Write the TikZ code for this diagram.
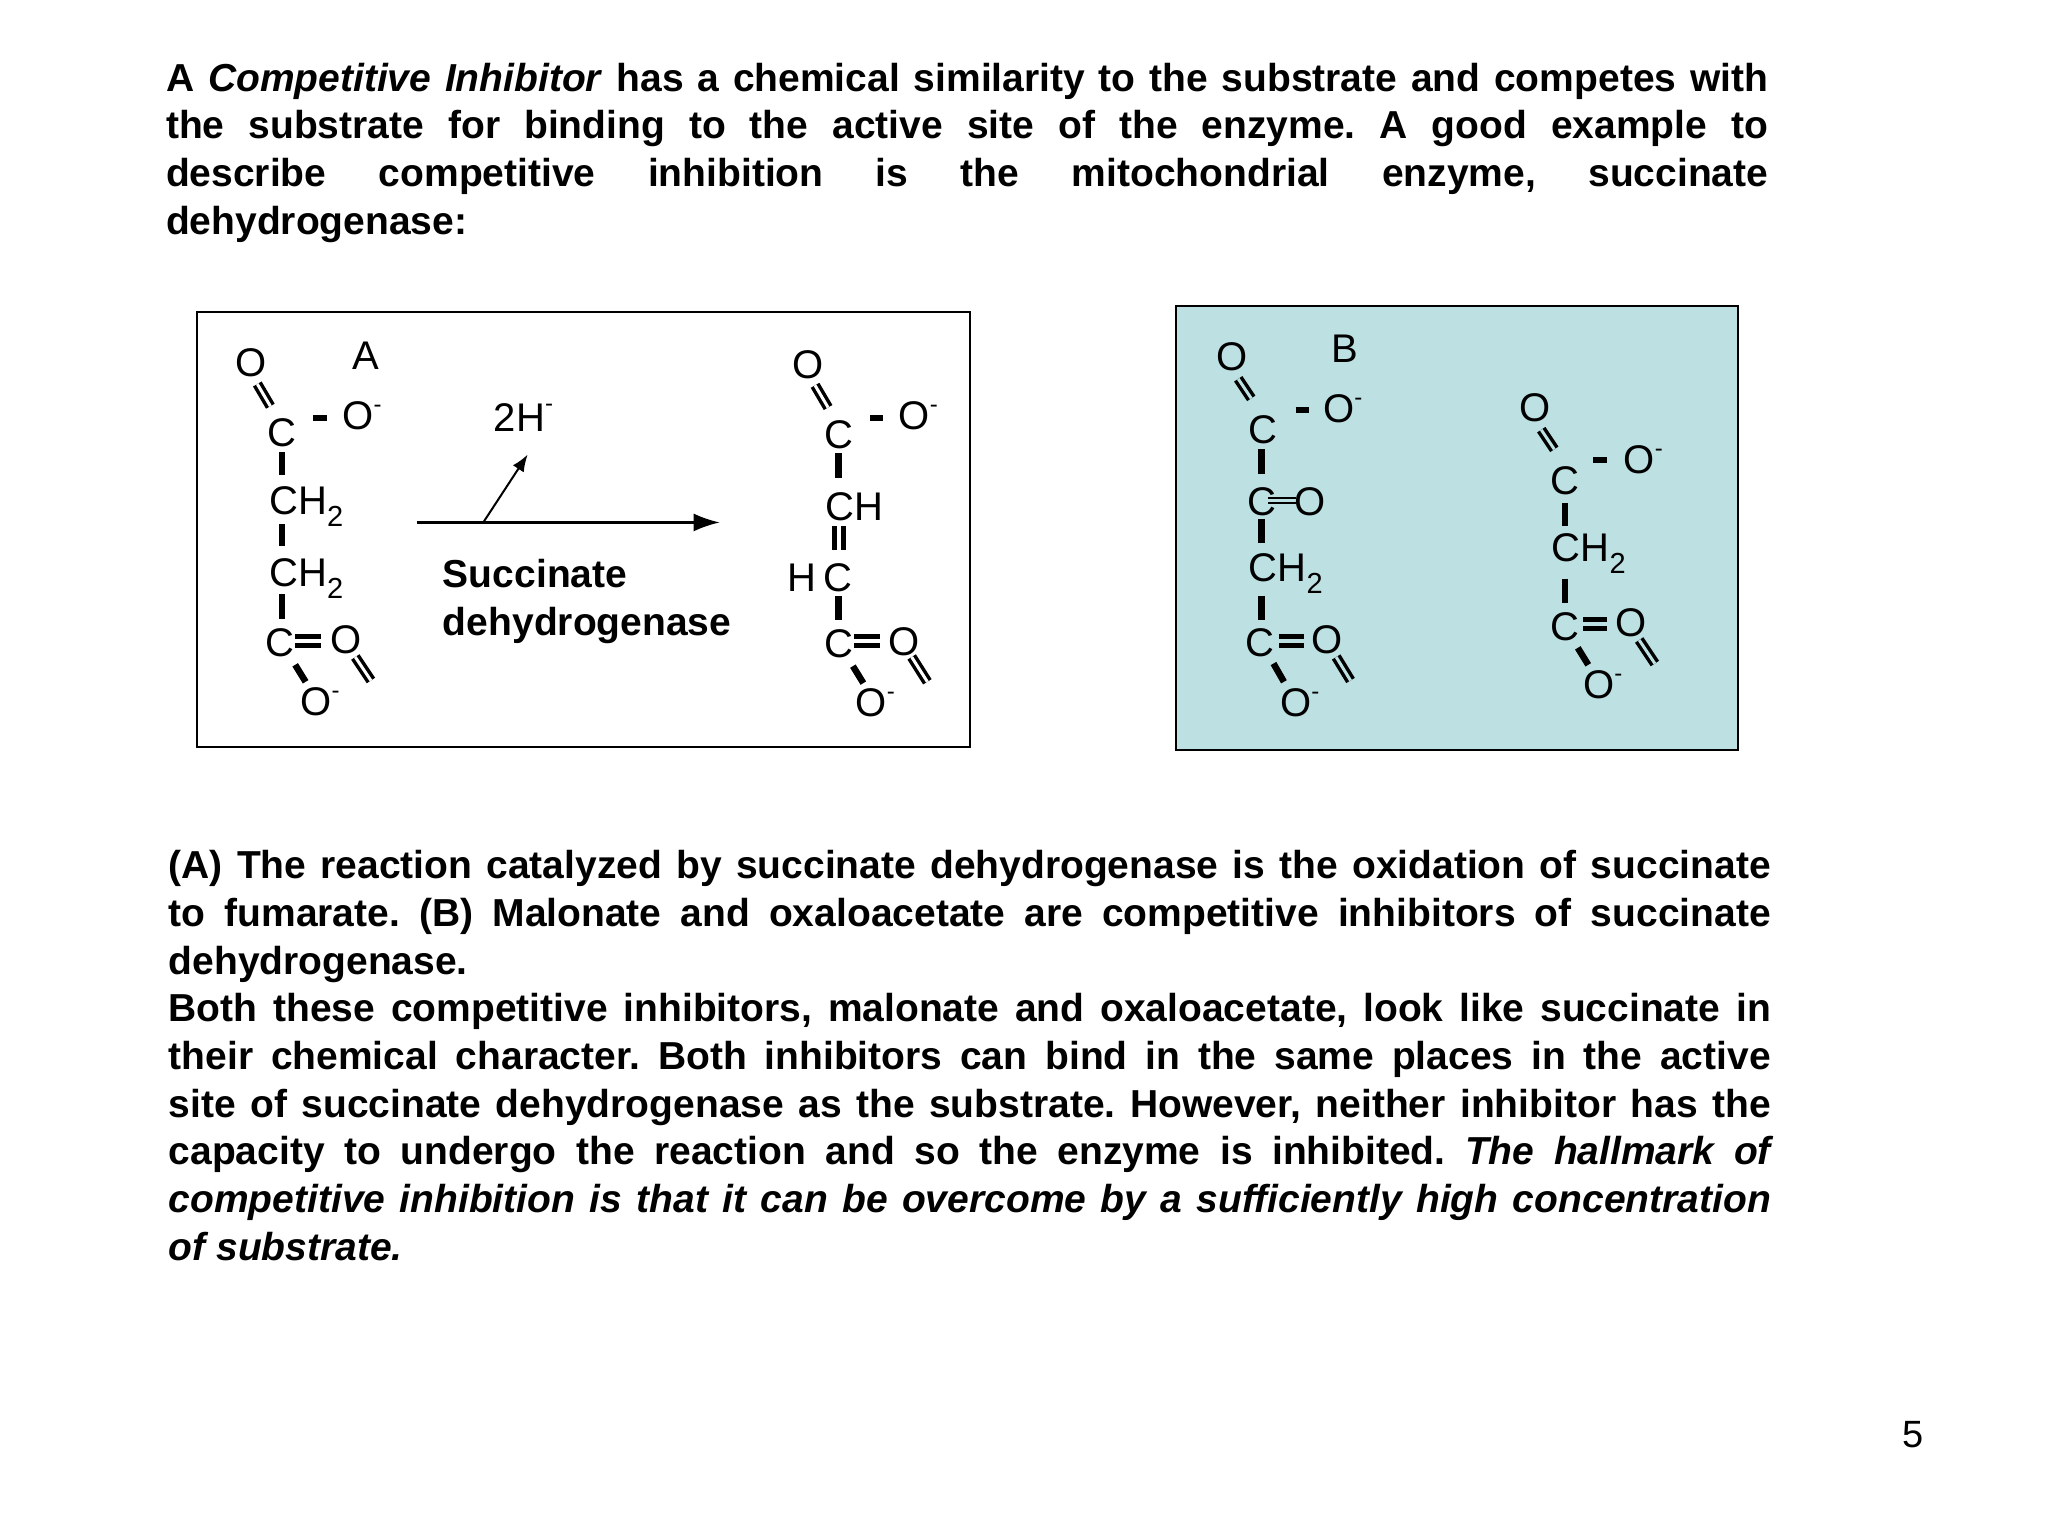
\documentclass[tikz,border=0pt]{standalone}
\usepackage{fontspec}
\usetikzlibrary{arrows.meta}
\setmainfont{Liberation Sans}
\definecolor{bbg}{HTML}{BDE0E3}
\newcommand\Om{O\raisebox{.42em}{\fontsize{24}{24}\selectfont -}}
\newcommand\CHt{CH\raisebox{-.3em}{\fontsize{29}{29}\selectfont 2}}
\begin{document}
\begin{tikzpicture}[x=1.306pt,y=-1.306pt,
  atom/.style={font=\fontsize{40}{40}\selectfont, inner sep=0pt},
  bnd/.style={line width=6.5pt},
  dbl/.style={line width=3.5pt, double distance=3pt, double=#1},
  dbl/.default=white,
  eq/.style={line width=5pt, double distance=4pt, double=#1},
  eq/.default=white,
  para/.style={anchor=north west, inner sep=0pt, text width=1602pt, align=justify,
    font=\fontsize{39}{47.7}\selectfont\bfseries\frenchspacing}]
\useasboundingbox (0,0) rectangle (1568,1176);
\fill[white] (0,0) rectangle (1568,1176);

\node[para] (top) at (127,48) {A \textit{Competitive Inhibitor} has a chemical similarity to the substrate and competes with\linebreak the substrate for binding to the active site of the enzyme. A good example to\linebreak describe competitive inhibition is the mitochondrial enzyme, succinate\linebreak dehydrogenase:};

\node[para] (bot) at (129,651) {(A) The reaction catalyzed by succinate dehydrogenase is the oxidation of succinate\linebreak to fumarate. (B) Malonate and oxaloacetate are competitive inhibitors of succinate\linebreak dehydrogenase.\\
Both these competitive inhibitors, malonate and oxaloacetate, look like succinate in\linebreak their chemical character. Both inhibitors can bind in the same places in the active\linebreak site of succinate dehydrogenase as the substrate. However, neither inhibitor has the\linebreak capacity to undergo the reaction and so the enzyme is inhibited. \textit{The hallmark of\linebreak competitive inhibition is that it can be overcome by a sufficiently high concentration\linebreak of substrate.}};

\node[font=\fontsize{38}{38}\selectfont] (pg) at (1465,1098) {5};

% Box A
\draw[line width=2pt] (151,239) rectangle (743,572);
% Box B
\draw[line width=2pt, fill=bbg] (900,234) rectangle (1331,574);

% ---- succinate
\node[atom] (a1) at (192,278) {O};
\node[atom] (al) at (280,272) {A};
\draw[dbl] (197,294) -- (207,311);
\node[atom] (a2) at (216,331) {C};
\draw[bnd] (240,320) -- (250,320);
\node[atom,anchor=west] (a3) at (262,318) {\Om};
\draw[bnd] (216,346) -- (216,364);
\node[atom,anchor=west] (a4) at (206,388) {\CHt};
\draw[bnd] (216,401) -- (216,418);
\node[atom,anchor=west] (a5) at (206,443) {\CHt};
\draw[bnd] (216,455) -- (216,474);
\node[atom] (a6) at (214,492) {C};
\draw[eq] (226,491) -- (246,491);
\node[atom] (a7) at (265,490) {O};
\draw[bnd] (226,509) -- (234,522);
\node[atom,anchor=west] (a8) at (230,537) {\Om};
\draw[dbl] (272,503) -- (284,521);

% arrow
\coordinate (ar1) at (319,400);
\coordinate (ar2) at (551,400);
\coordinate (ab) at (370,400);
\coordinate (at) at (404,348);
\draw[line width=2.2pt,-{Latex[length=26pt,width=18pt]}] (ar1) -- (ar2);
\draw[line width=2pt,-{Latex[length=17pt,width=13pt]}] (ab) -- (at);
\node[atom,anchor=west] (h2) at (378,320) {2H\raisebox{.5em}{\fontsize{24}{24}\selectfont -}};
\node[anchor=north west, inner sep=0pt, align=left, font=\fontsize{39}{47.7}\selectfont\bfseries] (sd) at (339,428) {Succinate\\dehydrogenase};

% ---- fumarate
\node[atom] (f1) at (619,279) {O};
\draw[dbl] (624,295) -- (634,312);
\node[atom] (f2) at (642,333) {C};
\draw[bnd] (666,320) -- (676,320);
\node[atom,anchor=west] (f3) at (688,318) {\Om};
\draw[bnd] (642,347) -- (642,366);
\node[atom,anchor=west] (f4) at (632,388) {CH};
\draw[eq] (642,403) -- (642,421);
\node[atom,anchor=west] (f5) at (603,442) {H\,C};
\draw[bnd] (642,456) -- (642,475);
\node[atom] (f6) at (642,493) {C};
\draw[eq] (654,491) -- (674,491);
\node[atom] (f7) at (692,491) {O};
\draw[bnd] (653,510) -- (661,523);
\node[atom,anchor=west] (f8) at (655,538) {\Om};
\draw[dbl] (698,503) -- (710,522);

% ---- oxaloacetate (B left)
\node[atom] (b1) at (943,273) {O};
\node[atom] (bl) at (1030,267) {B};
\draw[dbl=bbg] (948,290) -- (958,305);
\node[atom] (b2) at (967,329) {C};
\draw[bnd] (992,314) -- (1002,314);
\node[atom,anchor=west] (b3) at (1013,313) {\Om};
\draw[bnd] (966,344) -- (966,363);
\node[atom] (b4) at (966,384) {C};
\draw[line width=1.8pt, double distance=3pt, double=bbg] (971,383) -- (992,383);
\node[atom] (b5) at (1003,384) {O};
\draw[bnd] (966,397) -- (966,416);
\node[atom,anchor=west] (b6) at (956,439) {\CHt};
\draw[bnd] (966,456) -- (966,475);
\node[atom] (b7) at (965,492) {C};
\draw[eq=bbg] (979,491) -- (998,491);
\node[atom] (b8) at (1016,490) {O};
\draw[bnd] (975,508) -- (983,522);
\node[atom,anchor=west] (b9) at (980,538) {\Om};
\draw[dbl=bbg] (1023,503) -- (1034,521);

% ---- malonate (B right)
\node[atom] (m1) at (1175,312) {O};
\draw[dbl=bbg] (1180,329) -- (1190,344);
\node[atom] (m2) at (1198,368) {C};
\draw[bnd] (1220,352) -- (1230,352);
\node[atom,anchor=west] (m3) at (1243,352) {\Om};
\draw[bnd] (1198,385) -- (1198,403);
\node[atom,anchor=west] (m4) at (1188,424) {\CHt};
\draw[bnd] (1198,443) -- (1198,462);
\node[atom] (m5) at (1198,480) {C};
\draw[eq=bbg] (1212,478) -- (1230,478);
\node[atom] (m6) at (1249,477) {O};
\draw[bnd] (1208,496) -- (1216,509);
\node[atom,anchor=west] (m7) at (1212,524) {\Om};
\draw[dbl=bbg] (1255,490) -- (1267,508);
\end{tikzpicture}
\end{document}
